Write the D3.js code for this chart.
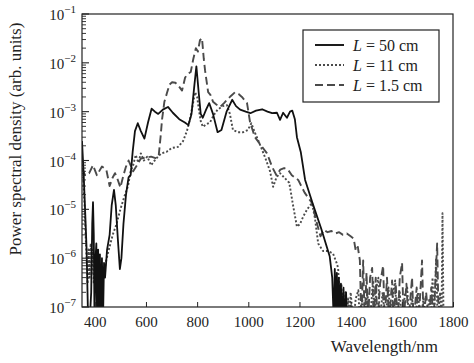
<!DOCTYPE html>
<html>
<head>
<meta charset="utf-8">
<script src="https://cdn.jsdelivr.net/npm/d3@7"></script>
<style>
  body { margin: 0; background: white; }
  svg text { font-family: "Liberation Serif", "Times New Roman", "DejaVu Serif", serif !important; fill: #222; }
</style>
</head>
<body>
<svg id="chart" width="474" height="363" font-family="Liberation Serif, Times New Roman, serif"></svg>
<script>
// spectra: [wavelength nm, power spectral density]
var l50 = [
  [350, 2.5e-4], [356, 6e-5], [362, 1e-5], [368, 1.5e-6], [374, 5e-8], [380, 5e-8], [386, 2e-7],
  [390, 5e-6], [393, 1.4e-5], [396, 3e-6], [399, 5e-8], [403, 1e-6], [406, 2e-6], [409, 5e-8],
  [413, 1.5e-6], [416, 5e-8], [420, 1.2e-6], [424, 5e-8], [428, 1e-6], [432, 5e-8], [436, 8e-7],
  [440, 4e-7], [448, 1.5e-6], [458, 3e-6], [466, 1.2e-5], [475, 2.5e-5], [482, 1.2e-5], [490, 2.5e-6],
  [498, 6e-7], [504, 1e-6], [512, 5e-6], [522, 2e-5], [532, 4.5e-5], [540, 5e-5], [548, 1.5e-4],
  [557, 4e-4], [568, 5.8e-4], [580, 4e-4], [594, 2.8e-4], [608, 6e-4], [622, 1.15e-3], [635, 1e-3],
  [648, 9e-4], [666, 1.1e-3], [686, 1.25e-3], [705, 9.5e-4], [730, 7e-4], [752, 6e-4], [766, 5.3e-4],
  [778, 9e-4], [788, 3e-3], [797, 8.5e-3], [806, 2.5e-3], [814, 9e-4], [822, 7.5e-4], [835, 1.1e-3],
  [847, 1.5e-3], [862, 9e-4], [880, 3.8e-4], [895, 4.2e-4], [915, 1e-3], [937, 1.75e-3], [952, 1.3e-3],
  [968, 1.1e-3], [990, 1e-3], [1008, 9.3e-4], [1030, 1.05e-3], [1054, 1.12e-3], [1075, 1e-3],
  [1093, 9.3e-4], [1112, 9.5e-4], [1124, 6.8e-4], [1136, 9.5e-4], [1151, 7.5e-4], [1163, 1e-3],
  [1172, 1.05e-3], [1182, 7e-4], [1190, 3e-4], [1205, 1.5e-4], [1222, 4e-5], [1250, 1.4e-5],
  [1285, 4e-6], [1318, 1.1e-6], [1328, 4e-7], [1334, 5e-8], [1338, 6e-7], [1342, 5e-8], [1346, 5e-7],
  [1350, 5e-8], [1354, 4e-7], [1358, 5e-8], [1362, 3e-7], [1366, 5e-8], [1372, 2.5e-7], [1376, 5e-8],
  [1382, 2e-7], [1386, 5e-8]
];

var l11 = [
  [350, 1e-4], [355, 4e-5], [360, 1.2e-5], [364, 3e-6], [368, 1e-6], [372, 3e-7], [376, 1.5e-6],
  [380, 4e-7], [384, 2e-6], [388, 5e-7], [392, 1.5e-6], [396, 3e-7], [400, 1.2e-6], [404, 2e-7],
  [408, 1e-6], [412, 3e-7], [416, 8e-7], [420, 2e-7], [424, 7e-7], [428, 3e-7], [432, 6e-7],
  [436, 4e-7], [442, 8e-7], [455, 1.5e-6], [470, 3e-6], [485, 5e-6], [500, 1e-5], [515, 1.8e-5],
  [530, 3e-5], [540, 6e-5], [550, 8e-5], [560, 1.3e-4], [570, 9e-5], [580, 1.4e-4], [592, 1e-4],
  [605, 1.2e-4], [620, 8e-5], [640, 1.1e-4], [660, 1.4e-4], [680, 1.5e-4], [700, 1.8e-4], [725, 1.9e-4],
  [745, 2.5e-4], [760, 4e-4], [772, 7e-4], [782, 1.3e-3], [792, 2.5e-3], [800, 2e-3], [808, 1e-3],
  [815, 6e-4], [823, 4.9e-4], [835, 5.5e-4], [850, 6e-4], [865, 8.5e-4], [880, 1.1e-3], [900, 1.3e-3],
  [917, 1.35e-3], [928, 9e-4], [940, 4.2e-4], [960, 3.8e-4], [980, 3.8e-4], [998, 4.2e-4],
  [1012, 5.8e-4], [1025, 3.8e-4], [1040, 2.5e-4], [1055, 1.6e-4], [1070, 1e-4], [1085, 6e-5],
  [1097, 2.9e-5], [1110, 4.5e-5], [1124, 5.5e-5], [1140, 4.5e-5], [1160, 3.5e-5], [1175, 1.2e-5],
  [1190, 4.4e-6], [1202, 5e-6], [1214, 7e-6], [1230, 1e-5], [1249, 1.35e-5], [1261, 6.3e-6],
  [1273, 2e-6], [1292, 1.4e-6], [1310, 1.4e-6], [1331, 1.25e-6], [1345, 8e-7], [1351, 6.3e-7],
  [1356, 2e-7], [1360, 5e-8], [1364, 3e-7], [1368, 5e-8], [1372, 2e-7], [1376, 5e-8], [1380, 2e-7],
  [1385, 5e-8], [1390, 1.5e-7], [1395, 5e-8], [1400, 2e-7], [1410, 5e-8], [1420, 1.5e-7],
  [1430, 2.2e-7], [1436, 5e-8], [1445, 1.5e-7], [1455, 5e-8], [1465, 2e-7], [1475, 5e-8],
  [1488, 3.5e-7], [1494, 5e-8], [1500, 2.5e-7], [1508, 4e-7], [1514, 5e-8], [1525, 2e-7], [1535, 5e-8],
  [1548, 2.5e-7], [1556, 5e-8], [1566, 2e-7], [1574, 3.5e-7], [1580, 5e-8], [1592, 2e-7], [1600, 5e-8],
  [1612, 1.8e-7], [1621, 2.5e-7], [1628, 5e-8], [1640, 1.5e-7], [1650, 5e-8], [1664, 2e-7],
  [1672, 5e-8], [1685, 1.5e-7], [1695, 5e-8], [1708, 1.5e-7], [1714, 5e-8], [1720, 4e-7], [1726, 5e-8],
  [1734, 1e-6], [1740, 5e-8], [1750, 2e-7], [1755, 5e-8], [1759, 8.3e-6], [1763, 5e-8], [1770, 5e-8]
];

var l15 = [
  [350, 7e-5], [362, 5e-5], [378, 5.5e-5], [393, 8e-5], [408, 5e-5], [428, 7.5e-5], [445, 6.5e-5],
  [458, 3e-5], [470, 4.5e-5], [479, 5.5e-5], [490, 4e-5], [500, 2.8e-5], [512, 5e-5], [522, 7.5e-5],
  [532, 1e-4], [550, 6e-5], [565, 8e-5], [580, 1.1e-4], [600, 1.15e-4], [620, 1.2e-4], [640, 1.1e-4],
  [650, 1.3e-4], [657, 3e-4], [663, 7e-4], [672, 1.6e-3], [682, 2.4e-3], [692, 3.6e-3], [702, 4e-3],
  [715, 3.9e-3], [725, 3.5e-3], [741, 2.7e-3], [753, 5e-3], [765, 6e-3], [775, 6.5e-3], [785, 1.2e-2],
  [795, 2e-2], [803, 1.7e-2], [811, 2.9e-2], [819, 3.2e-2], [826, 1.2e-2], [831, 7e-3], [843, 2.5e-3],
  [852, 2.2e-3], [862, 1.6e-3], [875, 1.4e-3], [890, 1.25e-3], [905, 1.5e-3], [917, 1.75e-3],
  [932, 2.1e-3], [948, 2.5e-3], [962, 2.3e-3], [975, 2e-3], [995, 1.5e-3], [1007, 6e-4], [1026, 3e-4],
  [1054, 1.9e-4], [1073, 1.4e-4], [1093, 7.4e-5], [1110, 5e-5], [1125, 6.5e-5], [1140, 7e-5],
  [1155, 6.5e-5], [1170, 5e-5], [1195, 4e-5], [1220, 2.2e-5], [1249, 1.35e-5], [1265, 6e-6],
  [1282, 2.8e-6], [1295, 3.8e-6], [1310, 3.4e-6], [1325, 3.6e-6], [1340, 3.2e-6], [1355, 3.4e-6],
  [1370, 3e-6], [1385, 3.2e-6], [1400, 2.8e-6], [1412, 2.5e-6], [1420, 1.4e-6], [1428, 1.7e-6],
  [1436, 9e-7], [1442, 5e-8], [1449, 9e-7], [1455, 5e-8], [1462, 5e-7], [1468, 5e-8], [1476, 4e-7],
  [1484, 6.3e-7], [1490, 5e-8], [1498, 4e-7], [1505, 5e-8], [1515, 3e-7], [1527, 7e-7], [1533, 5e-8],
  [1542, 4e-7], [1550, 5e-8], [1562, 3.5e-7], [1568, 5e-8], [1576, 3e-7], [1584, 5e-8], [1592, 4e-7],
  [1601, 8e-7], [1607, 5e-8], [1618, 3e-7], [1626, 5e-8], [1640, 4e-7], [1646, 5e-8], [1658, 2.5e-7],
  [1666, 5e-8], [1679, 9e-7], [1685, 5e-8], [1695, 2e-7], [1705, 5e-8], [1715, 2.5e-7], [1724, 5e-8],
  [1738, 2e-6], [1744, 5e-8], [1752, 5e-8]
];

var xTicks = [400, 600, 800, 1000, 1200, 1400, 1600, 1800];
var yExps = [-7, -6, -5, -4, -3, -2, -1];
var legendLabels = ["50 cm", "11 cm", "1.5 cm"];

var serif = "Liberation Serif, Times New Roman, serif";

var margin = {top: 14, right: 21, bottom: 56, left: 82},
    width = 474 - margin.left - margin.right,
    height = 363 - margin.top - margin.bottom;

var series = [
  {data: l50, color: "#111", dash: null, w: 1.8},
  {data: l11, color: "#4a4a4a", dash: "2,2", w: 1.9},
  {data: l15, color: "#4a4a4a", dash: "8,4", w: 1.9}
];

var svg = d3.select("#chart");

var x = d3.scaleLinear().domain([350, 1800]).range([0, width]);
var y = d3.scaleLog().domain([1e-7, 1e-1]).range([height, 0]);

var g = svg.append("g")
    .attr("transform", "translate(" + margin.left + "," + margin.top + ")");

g.append("clipPath").attr("id", "clip")
  .append("rect").attr("width", width).attr("height", height);

var line = d3.line()
    .x(function(d) { return x(d[0]); })
    .y(function(d) { return y(d[1]); });

// draw the dashed one first so the solid sits on top
[series[2], series[1], series[0]].forEach(function(s) {
  g.append("path")
    .datum(s.data)
    .attr("clip-path", "url(#clip)")
    .attr("fill", "none")
    .attr("stroke", s.color)
    .attr("stroke-width", s.w)
    .attr("stroke-dasharray", s.dash)
    .attr("stroke-linejoin", "round")
    .attr("d", line);
});

// x axis, ticks pointing inward
var xAxis = g.append("g")
    .attr("transform", "translate(0," + height + ")")
    .call(d3.axisBottom(x).tickValues(xTicks).tickFormat(d3.format("d"))
      .tickSizeInner(-5).tickSizeOuter(0).tickPadding(9));
xAxis.attr("font-family", serif);
xAxis.select(".domain").remove();
xAxis.selectAll("text").style("font-size", "15px").attr("fill", "#222");
xAxis.selectAll("line").attr("stroke", "#222");

// y axis with minor ticks
var minor = [];
yExps.slice(0, -1).forEach(function(e) {
  for (var k = 2; k < 10; k++) minor.push(k * Math.pow(10, e));
});
g.append("g").selectAll("line").data(minor).enter().append("line")
  .attr("x1", 0).attr("x2", 4)
  .attr("y1", function(d) { return y(d); }).attr("y2", function(d) { return y(d); })
  .attr("stroke", "#222").attr("stroke-width", 0.9);
g.append("g").selectAll("line").data(yExps).enter().append("line")
  .attr("x1", 0).attr("x2", 7)
  .attr("y1", function(d) { return y(Math.pow(10, d)); }).attr("y2", function(d) { return y(Math.pow(10, d)); })
  .attr("stroke", "#222").attr("stroke-width", 1.1);

var yl = g.append("g").selectAll("text").data(yExps).enter().append("text")
  .attr("x", -6)
  .attr("y", function(d) { return y(Math.pow(10, d)) + 6; })
  .attr("text-anchor", "end")
  .attr("font-family", serif)
  .style("font-size", "15px");
yl.append("tspan").text("10");
yl.append("tspan").attr("dy", -7).style("font-size", "11px")
  .text(function(d) { return "\u2212" + Math.abs(d); });

// frame
g.append("rect")
  .attr("width", width).attr("height", height)
  .attr("fill", "none").attr("stroke", "#222").attr("stroke-width", 1.2);

// axis titles
svg.append("text")
  .attr("transform", "translate(21," + 139 + ") rotate(-90)")
  .attr("text-anchor", "middle")
  .attr("font-family", serif)
  .style("font-size", "17px")
  .text("Power spectral density (arb. units)");

svg.append("text")
  .attr("x", 438).attr("y", 352)
  .attr("text-anchor", "end")
  .attr("font-family", serif)
  .style("font-size", "17px")
  .text("Wavelength/nm");

// legend
var lg = svg.append("g").attr("transform", "translate(303,30)");
lg.append("rect").attr("width", 136).attr("height", 72)
  .attr("fill", "white").attr("stroke", "#222").attr("stroke-width", 1.2);

var item = lg.selectAll("g.item").data(series).enter().append("g")
  .attr("class", "item")
  .attr("transform", function(d, i) { return "translate(0," + (15 + i * 20) + ")"; });
item.append("line")
  .attr("x1", 12).attr("x2", 41)
  .attr("stroke", function(d) { return d.color; })
  .attr("stroke-width", 1.9)
  .attr("stroke-dasharray", function(d) { return d.dash; });
var lt = item.append("text").attr("x", 50).attr("y", 6)
  .attr("font-family", serif)
  .style("font-size", "16px");
lt.append("tspan").style("font-style", "italic").text("L");
lt.append("tspan").text(function(d, i) { return " = " + legendLabels[i]; });
</script>
</body>
</html>
